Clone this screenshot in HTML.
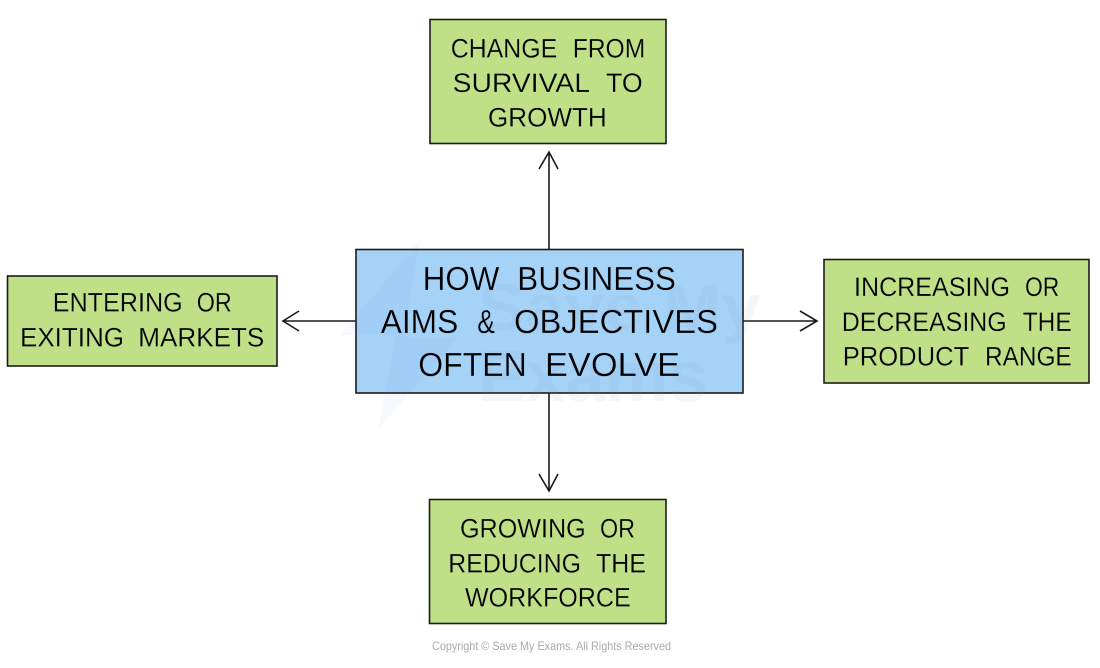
<!DOCTYPE html>
<html><head><meta charset="utf-8">
<style>
html,body{margin:0;padding:0;background:#fff;width:1100px;height:668px;overflow:hidden}
svg{display:block}
text{font-family:"Liberation Sans",sans-serif;fill:#000}
.m text{font-size:33px;stroke:#a5d3f8;stroke-width:.25px}
.s text{font-size:27px;stroke:#bfe086;stroke-width:.2px}
rect{stroke:#1c1c1c;stroke-width:1.6}
.g{fill:#bfe086}
path{fill:none;stroke:#1a1a1a;stroke-width:1.6}
</style></head><body>
<svg width="1100" height="668" viewBox="0 0 1100 668" xmlns="http://www.w3.org/2000/svg">
<path d="M549 249V152M539 169L549 152L558 169"/>
<path d="M549 393V491M539 474L549 491L558 474"/>
<path d="M356 321H283M299 311L283 321L299 331"/>
<path d="M743 321H817M800 311L817 321L800 331"/>
<rect class="g" x="430" y="19.500" width="236" height="124"/>
<rect class="g" x="429.500" y="499.500" width="236.500" height="124"/>
<rect class="g" x="7.500" y="276" width="269.500" height="90"/>
<rect class="g" x="824" y="259.500" width="265" height="123.500"/>
<rect x="356" y="249.500" width="387" height="143.500" fill="#a5d3f8"/>
<polygon points="420,240 340,335 396,335 378,430 458,337 404,337" fill="#4a6be0" opacity=".04"/>
<text x="478" y="330" font-size="66" font-weight="bold" style="fill:#7f8fa8" opacity=".07" textLength="283" lengthAdjust="spacingAndGlyphs">Save My</text>
<text x="478" y="401" font-size="72" font-weight="bold" style="fill:#7f8fa8" opacity=".07" textLength="230" lengthAdjust="spacingAndGlyphs">Exams</text>
<g class="m">
<text x="422.700" y="290" textLength="76.600" lengthAdjust="spacingAndGlyphs">HOW</text>
<text x="517.300" y="290" textLength="158.700" lengthAdjust="spacingAndGlyphs">BUSINESS</text>
<text x="380.700" y="333" textLength="77.600" lengthAdjust="spacingAndGlyphs">AIMS</text>
<text x="477.300" y="333" textLength="17.700" lengthAdjust="spacingAndGlyphs">&amp;</text>
<text x="514" y="333" textLength="204" lengthAdjust="spacingAndGlyphs">OBJECTIVES</text>
<text x="418.300" y="376" textLength="108.400" lengthAdjust="spacingAndGlyphs">OFTEN</text>
<text x="545" y="376" textLength="135" lengthAdjust="spacingAndGlyphs">EVOLVE</text>
</g>
<g class="s">
<text x="450.700" y="57.500" textLength="106.600" lengthAdjust="spacingAndGlyphs">CHANGE</text>
<text x="572.700" y="57.500" textLength="72.600" lengthAdjust="spacingAndGlyphs">FROM</text>
<text x="452.700" y="92" textLength="137.300" lengthAdjust="spacingAndGlyphs">SURVIVAL</text>
<text x="606" y="92" textLength="36.700" lengthAdjust="spacingAndGlyphs">TO</text>
<text x="488" y="126.500" textLength="118.700" lengthAdjust="spacingAndGlyphs">GROWTH</text>
<text x="460" y="537.500" textLength="125.700" lengthAdjust="spacingAndGlyphs">GROWING</text>
<text x="600" y="537.500" textLength="35" lengthAdjust="spacingAndGlyphs">OR</text>
<text x="448.300" y="572.500" textLength="132.700" lengthAdjust="spacingAndGlyphs">REDUCING</text>
<text x="596" y="572.500" textLength="50" lengthAdjust="spacingAndGlyphs">THE</text>
<text x="465" y="606.500" textLength="165.700" lengthAdjust="spacingAndGlyphs">WORKFORCE</text>
<text x="52.700" y="311.500" textLength="130" lengthAdjust="spacingAndGlyphs">ENTERING</text>
<text x="196.700" y="311.500" textLength="35" lengthAdjust="spacingAndGlyphs">OR</text>
<text x="20" y="346.500" textLength="104" lengthAdjust="spacingAndGlyphs">EXITING</text>
<text x="138.300" y="346.500" textLength="126" lengthAdjust="spacingAndGlyphs">MARKETS</text>
<text x="854" y="296" textLength="156" lengthAdjust="spacingAndGlyphs">INCREASING</text>
<text x="1025" y="296" textLength="34.300" lengthAdjust="spacingAndGlyphs">OR</text>
<text x="841.700" y="331" textLength="165" lengthAdjust="spacingAndGlyphs">DECREASING</text>
<text x="1022.700" y="331" textLength="49" lengthAdjust="spacingAndGlyphs">THE</text>
<text x="842.700" y="365.500" textLength="126.600" lengthAdjust="spacingAndGlyphs">PRODUCT</text>
<text x="985" y="365.500" textLength="86.700" lengthAdjust="spacingAndGlyphs">RANGE</text>
</g>
<text x="432" y="650" font-size="12" style="fill:#aaaaaa" textLength="239" lengthAdjust="spacingAndGlyphs">Copyright © Save My Exams. All Rights Reserved</text>
</svg>
</body></html>
